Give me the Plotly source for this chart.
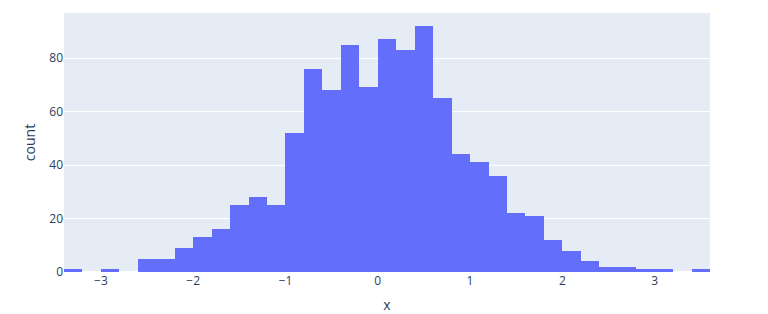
import plotly.graph_objects as go

bin_start = -3.4
bin_width = 0.2
counts = [1, 0, 1, 0, 5, 5, 9, 13, 16, 25, 28, 25, 52, 76, 68, 85, 69, 87, 83, 92,
          65, 44, 41, 36, 22, 21, 12, 8, 4, 2, 2, 1, 1, 0, 1]
centers = [round(bin_start + bin_width * (i + 0.5), 3) for i in range(len(counts))]

fig = go.Figure(go.Bar(x=centers, y=counts, width=bin_width, marker_color="#636efa",
                       marker_line=dict(width=0)))
fig.update_layout(
    template="plotly",
    width=768, height=314,
    margin=dict(l=64, r=58, t=13, b=42),
    bargap=0,
    xaxis=dict(title=dict(text="x", standoff=12), range=[-3.4, 3.6], automargin=False),
    yaxis=dict(title=dict(text="count", standoff=10), automargin=False),
)
fig.write_html("out.html")
